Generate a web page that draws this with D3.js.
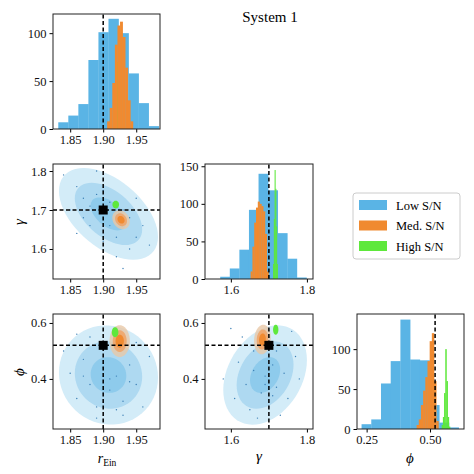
<!DOCTYPE html>
<html><head><meta charset="utf-8">
<script src="https://cdn.jsdelivr.net/npm/d3@7/dist/d3.min.js"></script>
<style>body{margin:0;background:#fff}svg{font-family:"Liberation Serif",serif}</style>
</head><body>
<svg id="c" width="474" height="474"></svg>
<script>
// ---- data ----
const trueVals = {rEin:1.90, gamma:1.70, phi:0.52};
// histograms: start, bin width, counts
const rEinLow  = {start:1.832, w:0.0152, c:[7,14,26,72,101,115,100,58,27,3]};
const rEinMed  = {start:1.906, w:0.0039, c:[8,22,48,88,108,112,96,64,30,8]};
const rEinHigh = {start:1.915, w:0.0018, c:[12,45,76,70,40]};
const gamLow   = {start:1.572, w:0.0252, c:[3,14,39,92,140,118,61,27,2]};
const gamMed   = {start:1.652, w:0.0047, c:[10,43,75,95,103,100,97,90,60,10]};
const gamHigh  = {start:1.711, w:0.0020, c:[20,80,145,120,70,20]};
const phiLow   = {start:0.230, w:0.0383, c:[6,12,57,85,137,87,86,30,8,2]};
const phiMed   = {start:0.447, w:0.0086, c:[5,12,30,48,65,85,110,120,60,10]};
const phiHigh  = {start:0.546, w:0.0047, c:[5,15,45,100,60,15,3]};
// Gaussian summaries of the 2D posteriors: mean x, mean y, sd x, sd y, correlation
const lowRG = [1.908,1.690,0.030,0.047,-0.5];
const medRG = [1.927,1.675,0.006,0.011,-0.2];
const highRG= [1.919,1.714,0.0025,0.005,0];
const lowRP = [1.908,0.414,0.030,0.071,-0.05];
const medRP = [1.925,0.535,0.007,0.026,0];
const highRP= [1.918,0.567,0.0025,0.009,0];
const lowGP = [1.690,0.414,0.044,0.071,0.3];
const medGP = [1.683,0.541,0.010,0.024,0.1];
const highGP= [1.718,0.576,0.0035,0.009,0];
const levels = [2.5,1.7,0.9];
// scattered low S/N samples (hand-read)
const dotsRG = [[1.84,1.79],[1.86,1.76],[1.87,1.73],[1.85,1.70],[1.88,1.66],[1.89,1.74],[1.91,1.72],[1.93,1.70],[1.95,1.63],[1.96,1.66],[1.94,1.60],[1.92,1.58],[1.90,1.62],[1.87,1.68],[1.95,1.73],[1.97,1.61],[1.89,1.80],[1.93,1.55],[1.86,1.64],[1.91,1.66],[1.88,1.71],[1.94,1.68],[1.90,1.75],[1.92,1.63]];
const dotsRP = [[1.84,0.50],[1.85,0.42],[1.86,0.33],[1.87,0.47],[1.88,0.38],[1.89,0.30],[1.90,0.44],[1.91,0.36],[1.92,0.41],[1.93,0.32],[1.94,0.45],[1.95,0.38],[1.96,0.30],[1.97,0.48],[1.89,0.26],[1.93,0.27],[1.88,0.55],[1.95,0.53],[1.91,0.40],[1.90,0.35],[1.87,0.41],[1.94,0.39],[1.92,0.29],[1.86,0.56]];
const dotsGP = [[1.58,0.40],[1.61,0.33],[1.62,0.46],[1.64,0.38],[1.65,0.29],[1.66,0.43],[1.68,0.35],[1.69,0.41],[1.70,0.30],[1.71,0.45],[1.72,0.37],[1.74,0.42],[1.75,0.33],[1.77,0.48],[1.78,0.40],[1.63,0.55],[1.76,0.57],[1.67,0.26],[1.73,0.27],[1.69,0.38],[1.71,0.34],[1.66,0.50],[1.72,0.50],[1.60,0.58]];
const rEinTicks=[1.85,1.90,1.95], gamTicks=[1.6,1.8], phiTicks=[0.25,0.50];
const gamYTicks=[1.6,1.7,1.8], phiYTicks=[0.4,0.6];
const cnt1Ticks=[0,50,100], cnt2Ticks=[0,50,100,150], cnt3Ticks=[0,50,100];
const legendLabels=["Low S/N","Med. S/N","High S/N"];
const colors=["#5ab4e5","#f08a30","#5ee83b"];
const contourFills=["#d3ecf8","#aed9f1","#8ecbec"];

// ---- layout ----
const svg=d3.select("#c");
const C=[[53,160],[205,313],[357,464]], R=[[14,129],[164,279],[314,429]];
const xR=d3.scaleLinear([1.824,1.986],C[0]);
const xG=d3.scaleLinear([1.532,1.816],C[1]);
const xP=d3.scaleLinear([0.212,0.634],C[2]);
const yC1=d3.scaleLinear([0,120],[R[0][1],R[0][0]]);
const yG=d3.scaleLinear([1.523,1.818],[R[1][1],R[1][0]]);
const yC2=d3.scaleLinear([0,153],[R[1][1],R[1][0]]);
const yP=d3.scaleLinear([0.221,0.632],[R[2][1],R[2][0]]);
const yC3=d3.scaleLinear([0,144],[R[2][1],R[2][0]]);
let cid=0;
function panel(x,y,xt,yt,xfmt,yfmt,draw){
  const id="cl"+(cid++);
  svg.append("clipPath").attr("id",id).append("rect")
    .attr("x",x.range()[0]).attr("y",y.range()[1]).attr("width",x.range()[1]-x.range()[0]).attr("height",y.range()[0]-y.range()[1]);
  const g=svg.append("g").attr("clip-path",`url(#${id})`);
  draw(g);
  const ax=svg.append("g").attr("transform",`translate(0,${y.range()[0]})`).call(d3.axisBottom(x).tickValues(xt).tickFormat(d3.format(xfmt)).tickSize(3.5).tickSizeOuter(0));
  const ay=svg.append("g").attr("transform",`translate(${x.range()[0]},0)`).call(d3.axisLeft(y).tickValues(yt).tickFormat(d3.format(yfmt)).tickSize(3.5).tickSizeOuter(0));
  [ax,ay].forEach(a=>{a.select(".domain").remove();a.selectAll("text").attr("font-size",12.5).attr("font-family","Liberation Serif").attr("fill","#111");});
  svg.append("rect").attr("x",x.range()[0]).attr("y",y.range()[1]).attr("width",x.range()[1]-x.range()[0]).attr("height",y.range()[0]-y.range()[1]).attr("fill","none").attr("stroke","#222").attr("stroke-width",1);
}
function hist(g,x,y,h,col){
  g.selectAll(null).data(h.c).join("rect")
    .attr("x",(d,i)=>x(h.start+i*h.w)).attr("width",(d,i)=>x(h.start+(i+1)*h.w)-x(h.start+i*h.w)+0.3)
    .attr("y",d=>y(d)).attr("height",d=>y(0)-y(d)).attr("fill",col);
}
function vline(g,x,v,y){g.append("line").attr("x1",x(v)).attr("x2",x(v)).attr("y1",y.range()[0]).attr("y2",y.range()[1]).attr("stroke","#000").attr("stroke-width",1.5).attr("stroke-dasharray","4,2.5");}
function hline(g,y,v,x){g.append("line").attr("y1",y(v)).attr("y2",y(v)).attr("x1",x.range()[0]).attr("x2",x.range()[1]).attr("stroke","#000").attr("stroke-width",1.5).attr("stroke-dasharray","4,2.5");}
function ell(g,x,y,p,k,fill,op){
  const [mx,my,sx,sy,r]=p; const pts=d3.range(0,361,6).map(t=>{const a=t*Math.PI/180,u=Math.cos(a),v=Math.sin(a);
    return [x(mx+k*sx*u), y(my+k*sy*(r*u+Math.sqrt(1-r*r)*v))];});
  g.append("path").attr("d",d3.line()(pts)+"Z").attr("fill",fill).attr("opacity",op);
}
function scatter(g,x,y,low,med,high,dots,tx,ty){
  levels.forEach((k,i)=>ell(g,x,y,low,k,contourFills[i],1));
  g.selectAll(null).data(dots).join("circle").attr("cx",d=>x(d[0])).attr("cy",d=>y(d[1])).attr("r",0.7).attr("fill","#3b7fb5");
  ell(g,x,y,med,2.2,"#e8c8a8",0.8); ell(g,x,y,med,1.5,"#eea56a",0.9); ell(g,x,y,med,0.9,colors[1],1);
  ell(g,x,y,high,2.0,colors[2],1);
  vline(g,x,tx,y); hline(g,y,ty,x);
  g.append("rect").attr("x",x(tx)-4.5).attr("y",y(ty)-4.5).attr("width",9).attr("height",9).attr("fill","#000");
}
// row 1
panel(xR,yC1,rEinTicks,cnt1Ticks,".2f","d",g=>{hist(g,xR,yC1,rEinLow,colors[0]);hist(g,xR,yC1,rEinHigh,colors[2]);hist(g,xR,yC1,rEinMed,colors[1]);vline(g,xR,trueVals.rEin,yC1);});
// row 2
panel(xR,yG,rEinTicks,gamYTicks,".2f",".1f",g=>scatter(g,xR,yG,lowRG,medRG,highRG,dotsRG,trueVals.rEin,trueVals.gamma));
panel(xG,yC2,gamTicks,cnt2Ticks,".1f","d",g=>{hist(g,xG,yC2,gamLow,colors[0]);hist(g,xG,yC2,gamMed,colors[1]);hist(g,xG,yC2,gamHigh,colors[2]);vline(g,xG,trueVals.gamma,yC2);});
// row 3
panel(xR,yP,rEinTicks,phiYTicks,".2f",".1f",g=>scatter(g,xR,yP,lowRP,medRP,highRP,dotsRP,trueVals.rEin,trueVals.phi));
panel(xG,yP,gamTicks,phiYTicks,".1f",".1f",g=>scatter(g,xG,yP,lowGP,medGP,highGP,dotsGP,trueVals.gamma,trueVals.phi));
panel(xP,yC3,phiTicks,cnt3Ticks,".2f","d",g=>{hist(g,xP,yC3,phiLow,colors[0]);hist(g,xP,yC3,phiHigh,colors[2]);hist(g,xP,yC3,phiMed,colors[1]);vline(g,xP,trueVals.phi,yC3);});

// titles and labels
svg.append("text").attr("x",270).attr("y",22).attr("text-anchor","middle").attr("font-size",15).text("System 1");
const xl=svg.append("text").attr("x",107).attr("y",463).attr("text-anchor","middle").attr("font-size",14);
xl.append("tspan").attr("font-style","italic").text("r");
xl.append("tspan").attr("font-size",9.5).attr("dy",3).text("Ein");
svg.append("text").attr("x",259).attr("y",461).attr("text-anchor","middle").attr("font-size",15).attr("font-style","italic").text("γ");
svg.append("text").attr("x",410).attr("y",463).attr("text-anchor","middle").attr("font-size",15).attr("font-style","italic").text("ϕ");
svg.append("text").attr("transform","translate(24,222) rotate(-90)").attr("text-anchor","middle").attr("font-size",15).attr("font-style","italic").text("γ");
svg.append("text").attr("transform","translate(24,372) rotate(-90)").attr("text-anchor","middle").attr("font-size",15).attr("font-style","italic").text("ϕ");

// legend
const lg=svg.append("g");
lg.append("rect").attr("x",353).attr("y",193).attr("width",107).attr("height",66).attr("rx",3).attr("fill","#fff").attr("stroke","#ccc");
legendLabels.forEach((t,i)=>{
  lg.append("rect").attr("x",359).attr("y",200+i*20.5).attr("width",28).attr("height",10).attr("fill",colors[i]);
  lg.append("text").attr("x",396).attr("y",209.5+i*20.5).attr("font-size",12.5).text(t);
});
</script>
</body></html>
